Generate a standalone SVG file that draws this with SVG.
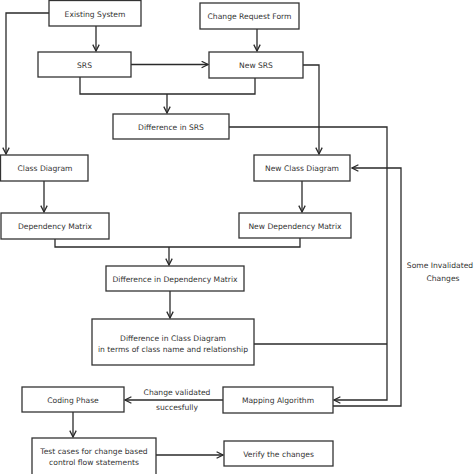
<svg xmlns="http://www.w3.org/2000/svg" width="474" height="474" viewBox="0 0 474 474">
<defs>
<marker id="arr" viewBox="0 0 10 10" refX="9" refY="5" markerWidth="8" markerHeight="8" markerUnits="userSpaceOnUse" orient="auto">
<path d="M1,1 L9,5 L1,9" fill="none" stroke="#2a2a2a" stroke-width="1.6"/>
</marker>
<style>
.b{fill:#fff;stroke:#333;stroke-width:1.3}
.t{font-family:"DejaVu Sans",Verdana,sans-serif;font-size:7.6px;fill:#333;text-anchor:middle}
.c{fill:none;stroke:#2a2a2a;stroke-width:1.3}
</style>
</defs>
<rect width="474" height="474" fill="#fff"/>
<g id="connectors">
<path class="c" d="M96,26 V51" marker-end="url(#arr)"/>
<path class="c" d="M49,13 H6 V154" marker-end="url(#arr)"/>
<path class="c" d="M257,29 V51" marker-end="url(#arr)"/>
<path class="c" d="M131,64.5 H208" marker-end="url(#arr)"/>
<path class="c" d="M80,77 V94 H255 V78"/>
<path class="c" d="M167,94 V113" marker-end="url(#arr)"/>
<path class="c" d="M303,65 H319 V154" marker-end="url(#arr)"/>
<path class="c" d="M229,127 H387 V400 H334" marker-end="url(#arr)"/>
<path class="c" d="M254,344 H387"/>
<path class="c" d="M333,406 H401 V168 H352" marker-end="url(#arr)"/>
<path class="c" d="M44,181 V212" marker-end="url(#arr)"/>
<path class="c" d="M302,181 V212" marker-end="url(#arr)"/>
<path class="c" d="M55,239 V247 H300 V238"/>
<path class="c" d="M169,247 V265" marker-end="url(#arr)"/>
<path class="c" d="M170,291 V318" marker-end="url(#arr)"/>
<path class="c" d="M223,400 H125" marker-end="url(#arr)"/>
<path class="c" d="M73,412 V437" marker-end="url(#arr)"/>
<path class="c" d="M156,455 H223" marker-end="url(#arr)"/>
<text class="t" x="177" y="395">Change validated</text>
<text class="t" x="177" y="410">succesfully</text>
<text class="t" x="440" y="268">Some Invalidated</text>
<text class="t" x="443" y="281">Changes</text>
</g>
<g id="existing-system"><rect class="b" x="49" y="0.5" width="92" height="25.5"/><text class="t" x="95" y="17">Existing System</text></g>
<g id="change-request-form"><rect class="b" x="200" y="3" width="99" height="26"/><text class="t" x="249.5" y="19">Change Request Form</text></g>
<g id="srs"><rect class="b" x="38" y="52" width="93" height="25"/><text class="t" x="84.5" y="68">SRS</text></g>
<g id="new-srs"><rect class="b" x="209" y="52" width="94" height="26"/><text class="t" x="256" y="68">New SRS</text></g>
<g id="difference-in-srs"><rect class="b" x="113" y="114" width="116" height="25"/><text class="t" x="171" y="130">Difference in SRS</text></g>
<g id="class-diagram"><rect class="b" x="0.5" y="155" width="87.5" height="26"/><text class="t" x="45" y="171">Class Diagram</text></g>
<g id="new-class-diagram"><rect class="b" x="254" y="155" width="96" height="26"/><text class="t" x="302" y="171">New Class Diagram</text></g>
<g id="dependency-matrix"><rect class="b" x="1" y="213" width="108" height="26"/><text class="t" x="55" y="229">Dependency Matrix</text></g>
<g id="new-dependency-matrix"><rect class="b" x="239" y="213" width="112" height="25"/><text class="t" x="295" y="229">New Dependency Matrix</text></g>
<g id="difference-in-dependency-matrix"><rect class="b" x="106" y="266" width="138" height="25"/><text class="t" x="175" y="282">Difference in Dependency Matrix</text></g>
<g id="difference-in-class-diagram"><rect class="b" x="92" y="319" width="162" height="46"/><text class="t" x="173" y="341">Difference in Class Diagram</text><text class="t" x="173" y="352">in terms of class name and relationship</text></g>
<g id="coding-phase"><rect class="b" x="22" y="387" width="102" height="25"/><text class="t" x="73" y="403">Coding Phase</text></g>
<g id="mapping-algorithm"><rect class="b" x="223" y="387" width="110" height="26"/><text class="t" x="278" y="403">Mapping Algorithm</text></g>
<g id="test-cases"><rect class="b" x="32" y="438" width="124" height="40"/><text class="t" x="94" y="454">Test cases for change based</text><text class="t" x="94" y="465">control flow statements</text></g>
<g id="verify-the-changes"><rect class="b" x="224" y="441" width="109" height="25"/><text class="t" x="278.5" y="457">Verify the changes</text></g>
</svg>
